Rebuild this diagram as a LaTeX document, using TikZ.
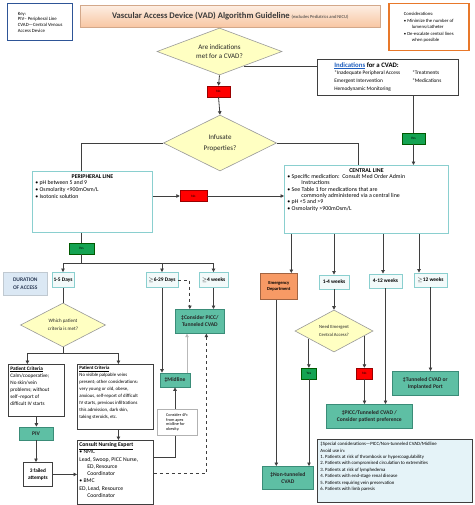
\documentclass[tikz,border=0pt]{standalone}
\usepackage{fontspec}
\setmainfont{Carlito}
\usepackage{xcolor}
\usepackage{tikz}
\usetikzlibrary{shapes.geometric, arrows.meta}
\definecolor{linegray}{HTML}{3F3F3F}
\definecolor{diamondfill}{HTML}{FFFFC2}
\definecolor{tealfill}{HTML}{5EBFA4}
\definecolor{tealline}{HTML}{3A8C78}
\definecolor{paleteal}{HTML}{F2FAFA}
\definecolor{tealborder}{HTML}{8ACFCF}
\definecolor{nored}{HTML}{FF0000}
\definecolor{yesgreen}{HTML}{14A352}
\definecolor{keyblue}{HTML}{2E5597}
\definecolor{considorange}{HTML}{E8782A}
\definecolor{edorange}{HTML}{F79A65}
\definecolor{durblue}{HTML}{DBE8F4}
\definecolor{durtext}{HTML}{2B3A55}
\definecolor{specialblue}{HTML}{E5F3F8}
\definecolor{titletop}{HTML}{FDEEE3}
\definecolor{titlebottom}{HTML}{F8C6A2}
\definecolor{titletext}{HTML}{3A3A3A}
\definecolor{linkblue}{HTML}{1F5FBF}

\begin{document}
\begin{tikzpicture}[x=1pt, y=-1pt,
    conn/.style={draw=linegray, line width=0.8pt},
    arr/.style={conn, -{Triangle[length=3.5pt, width=3.5pt]}},
    decision/.style={diamond, aspect=2, draw=gray!80, fill=diamondfill, line width=0.6pt,
      inner sep=0pt, align=center, text=black!85},
    outcome/.style={draw=tealline, fill=tealfill, line width=0.7pt, inner sep=1pt, align=center,
      font=\bfseries\fontsize{5.6}{6.8}\selectfont, text=black!85},
    nobox/.style={draw=red!60!black, fill=nored, line width=0.4pt, minimum width=23pt,
      minimum height=11pt, inner sep=0pt, font=\fontsize{3.5}{4}\selectfont},
    yesbox/.style={nobox, draw=green!35!black, fill=yesgreen},
    daybox/.style={draw=tealborder, fill=paleteal, line width=0.9pt, minimum height=15pt,
      inner sep=1.5pt, font=\bfseries\fontsize{5.4}{6}\selectfont},
    panel/.style={draw=linegray, fill=white, line width=0.7pt, inner sep=2pt, anchor=north west}]
  \path[fill=white] (0,0) rectangle (474,505);
  \useasboundingbox (0,0) rectangle (474,505);

  \node[panel, draw=keyblue, line width=1.4pt, inner sep=3pt, minimum width=65pt, minimum height=37pt,
        align=left, font=\fontsize{4.8}{5.8}\selectfont] (key) at (7,3)
    {Key:\\PIV– Peripheral Line\\CVAD—Central Venous\\Access Device};
  \node[panel, draw=titlebottom!85!black, line width=0.5pt, top color=titletop, bottom color=titlebottom,
        minimum width=300pt, minimum height=22pt] (title) at (80,5)
    {\color{titletext}\bfseries\fontsize{8.6}{10}\selectfont Vascular Access Device (VAD) Algorithm Guideline\
     {\mdseries\fontsize{4.6}{5}\selectfont (excludes Pediatrics and NICU)}};
  \node[panel, draw=considorange, line width=1.5pt, inner sep=3pt, minimum width=80pt, minimum height=47pt,
        align=left, font=\fontsize{4.7}{5.7}\selectfont] (consid) at (388,3)
    {Considerations:\\[1.5pt]
     \textbullet\ Minimize the number of\\\hspace*{8pt}lumens/catheter\\[1.5pt]
     \textbullet\ De-escalate central lines\\\hspace*{8pt}when possible};

  \node[decision, minimum width=125pt, minimum height=47pt, font=\fontsize{7}{9.5}\selectfont] (d1)
    at (219.5,51.5) {Are indications\\met for a CVAD?};
  \node[nobox] (no1) at (218.5,91.5) {No};
  \node[panel, inner sep=2.5pt, minimum width=141pt, minimum height=36pt, align=left] (ind) at (317,59)
    {{\bfseries\fontsize{6.8}{8}\selectfont{\color{linkblue}\underline{Indications}} for a CVAD:}\\[-0.5pt]
     {\fontsize{5.3}{7.6}\selectfont\begin{tabular}{@{}l@{\hspace{12pt}}l@{}}
       *Inadequate Peripheral Access & *Treatments\\
       *Emergent Intervention & *Medications\\
       *Hemodynamic Monitoring &
     \end{tabular}}};
  \node[yesbox] (yes1) at (413.5,138.5) {Yes};
  \node[decision, minimum width=113pt, minimum height=56pt, font=\fontsize{7}{10.5}\selectfont] (d2)
    at (220,143) {Infusate\\Properties?};

  \node[panel, draw=tealborder, line width=0.9pt, inner sep=3pt, font=\fontsize{5.8}{6.6}\selectfont] (perip)
    at (32,171)
    {\parbox[c][55pt][t]{114pt}{\centering\textbf{PERIPHERAL LINE}\par\raggedright
      \textbullet\ pH between 5 and 9\\
      \textbullet\ Osmolarity <900mOsm/L\\
      \textbullet\ Isotonic solution}};
  \node[nobox, minimum width=27pt] (no2) at (193.5,196) {No};
  \node[panel, draw=tealborder, line width=0.9pt, inner sep=3pt, font=\fontsize{5.9}{6.3}\selectfont] (central)
    at (284,165)
    {\parbox[c][62pt][t]{158pt}{\centering\textbf{CENTRAL LINE}\par\raggedright
      \textbullet\ Specific medication:\ \ Consult Med Order Admin\\
      \hspace*{14pt}Instructions\\
      \textbullet\ See Table 1 for medications that are\\
      \hspace*{14pt}commonly administered via a central line\\
      \textbullet\ pH <5 and >9\\
      \textbullet\ Osmolarity >900mOsm/L}};
  \node[yesbox, minimum width=25pt] (yes2) at (81.5,248.5) {Yes};

  \node[panel, draw=durblue!70!gray, fill=durblue, line width=0.6pt, minimum width=44pt, minimum height=23pt,
        align=left, font=\bfseries\fontsize{5.5}{7.5}\selectfont, text=durtext] (dur) at (3,272)
    {DURATION\\OF ACCESS};
  \node[daybox, minimum width=21pt] (d15) at (63,280) {1-5 Days};
  \node[daybox, minimum width=32pt] (d629) at (162,280) {$\geq$6-29 Days};
  \node[daybox, minimum width=29pt] (w4) at (213.5,280) {$\geq$4 weeks};

  \node[decision, minimum width=85pt, minimum height=44pt, font=\fontsize{5}{7.5}\selectfont] (d3)
    at (63,325) {Which patient\\criteria is met?};
  \node[panel, line width=0.8pt, font=\fontsize{5.2}{7}\selectfont] (pc1) at (8,364)
    {\parbox[c][48pt][t]{52pt}{\raggedright\underline{\textbf{Patient Criteria}}\\
      Calm/cooperative;\\No skin/vein\\problems; without\\self–report of\\difficult IV starts}};
  \node[panel, line width=0.8pt, font=\fontsize{4.8}{7}\selectfont] (pc2) at (77,364)
    {\parbox[c][61pt][t]{72pt}{\raggedright\underline{\textbf{Patient Criteria}}\\
      No visible palpable veins\\present; other considerations:\\very young or old, obese,\\
      anxious, self-report of difficult\\IV starts, previous infiltrations\\this admission, dark skin,\\
      taking steroids, etc.}};
  \node[outcome, minimum width=34pt, minimum height=13pt] (piv) at (36,433.5) {PIV};
  \node[panel, line width=0.8pt, minimum width=29pt, minimum height=24pt, align=center,
        font=\bfseries\fontsize{5.3}{6.5}\selectfont] (fail) at (23,462) {3 failed\\attempts};
  \node[panel, line width=0.8pt, font=\fontsize{5.7}{7.3}\selectfont] (consult) at (77,440)
    {\parbox[c][60pt][t]{72pt}{\raggedright\underline{\textbf{Consult Nursing Expert}}\\
      \textbullet\ NMC\\Lead, Swoop, PICC Nurse,\\\hspace*{8pt}ED, Resource\\\hspace*{8pt}Coordinator\\
      \textbullet\ BMC\\ED, Lead, Resource\\\hspace*{8pt}Coordinator}};
  \node[outcome, minimum width=30pt, minimum height=14pt] (midline) at (175,380) {‡Midline};
  \node[outcome, anchor=north west, minimum width=49pt, minimum height=24pt] (picc1) at (175,309)
    {‡Consider PICC/\\Tunneled CVAD};

  \node[panel, draw=edorange!65!black, fill=edorange, line width=0.6pt, minimum width=37pt, minimum height=26pt,
        align=center, font=\bfseries\fontsize{4.6}{6.5}\selectfont] (emerg) at (260,273)
    {Emergency\\Department};
  \node[daybox, minimum width=30pt, minimum height=14pt] (w14) at (334,282) {1-4 weeks};
  \node[daybox, minimum width=33pt, minimum height=14pt] (w412) at (385.5,281) {4-12 weeks};
  \node[daybox, minimum width=33pt, minimum height=14pt] (w12) at (430.5,280) {$\geq$12 weeks};
  \node[decision, minimum width=78pt, minimum height=42pt, font=\fontsize{4.7}{7.5}\selectfont] (d4)
    at (334,331) {Need Emergent\\Central Access?};
  \node[yesbox, minimum width=15pt] (yes3) at (309,373.5) {Yes};
  \node[nobox, minimum width=16pt] (no3) at (364.5,373.5) {No};
  \node[outcome, anchor=north west, minimum width=66pt, minimum height=24pt] (tunn) at (392,371)
    {‡Tunneled CVAD or\\Implanted Port};
  \node[outcome, anchor=north west, minimum width=86pt, minimum height=24pt] (picc2) at (326,404)
    {‡PICC/Tunneled CVAD /\\Consider patient preference};
  \node[outcome, anchor=north west, minimum width=51pt, minimum height=23pt] (nontun) at (262,466)
    {‡Non-tunneled\\CVAD};
  \node[panel, fill=specialblue, line width=0.9pt, inner sep=3pt, font=\fontsize{4.8}{6.4}\selectfont] (special)
    at (317,439)
    {\parbox[c][57pt][t]{149pt}{\raggedright
      ‡Special considerations—PICC/Non-tunneled CVAD/Midline\\
      Avoid use in:\\
      1.\ Patients at risk of thrombosis or hypercoagulability\\
      2.\ Patients with compromised circulation to extremities\\
      3.\ Patients at risk of lymphedema\\
      4.\ Patients with end-stage renal disease\\
      5.\ Patients requiring vein preservation\\
      6.\ Patients with limb paresis}};

  \draw[arr] (d1.south) -- (no1.north);
  \draw[arr] (no1.south) -- (d2.north);
  \draw[conn] (d1.-31) -- (d1.-31 -| ind.west);
  \draw[conn] (yes1.north |- ind.south) -- (yes1.north);
  \draw[arr] (yes1.south) -- (yes1.south |- central.north);
  \draw[conn] (d2.west) -| (yes2.north |- perip.north);
  \draw[conn] (d2.east) -| ([xshift=-8pt]central.north);
  \draw[arr] (no2.west -| perip.east) -- (no2.west);
  \draw[arr] (no2.east) -- (no2.east -| central.west);

  \coordinate (bus1) at (81.5,263);
  \draw[conn] (yes2.north |- perip.south) -- (yes2.north);
  \draw[conn] (yes2.south) -- (bus1);
  \draw[conn] (bus1 -| d15.north) -- (bus1 -| w4.north);
  \draw[arr] (bus1 -| d15.north) -- (d15.north);
  \draw[arr] (bus1 -| d629.north) -- (d629.north);
  \draw[arr] (bus1 -| w4.north) -- (w4.north);

  \coordinate (bus2) at (63,353);
  \draw[conn] (d15.south) -- (d3.north);
  \draw[conn] (d3.south) -- (bus2);
  \draw[arr] (bus2) -| ([xshift=-9pt]pc1.north);
  \draw[arr] (bus2) -| ([xshift=3pt]pc2.north);
  \draw[arr] (pc1.south) -- (pc1.south |- piv.north);
  \draw[arr] (piv.south) -- (piv.south |- fail.north);
  \draw[arr] (fail.east) -- (fail.east -| consult.west);
  \draw[arr] ([xshift=3pt]pc2.south) -- ([xshift=3pt]pc2.south |- consult.north);

  \draw[arr] (d629.south) -- (d629.south |- midline.north);
  \draw[arr, dashed] (d629.east) -| ([xshift=-10pt]picc1.north);
  \draw[arr] (w4.south) -- (w4.south |- picc1.north);
  \draw[arr, draw=gray!55] ([xshift=12pt]midline.north) -- ([xshift=12pt]midline.north |- picc1.south);
  \draw[arr] ([yshift=15pt]consult.east) -| (midline.south);
  \draw[arr, dashed] ([yshift=-1pt]consult.east) -| ([xshift=6.5pt]picc1.south);
  \node[panel, draw=gray!60, line width=0.6pt, minimum width=40pt, minimum height=26pt, align=left,
        font=\fontsize{4.2}{4.8}\selectfont] (consider4) at (157,409)
    {Consider 4Fr.\\from apex\\midline for\\obesity.};

  \draw[arr] ([xshift=12.5pt]emerg.north |- central.south) -- ([xshift=12.5pt]emerg.north);
  \draw[arr] (w14.north |- central.south) -- (w14.north);
  \draw[arr] ([xshift=-2.5pt]w412.north |- central.south) -- ([xshift=-2.5pt]w412.north);
  \draw[arr] ([xshift=-11.5pt]w12.north |- central.south) -- ([xshift=-11.5pt]w12.north);
  \draw[arr] ([xshift=-2.5pt]emerg.south) -- ([xshift=-2.5pt]emerg.south |- nontun.north);
  \draw[arr] (w14.south) -- (d4.north);
  \draw[arr] (d4.197) -- (d4.197 |- yes3.north);
  \draw[arr] (yes3.south) -- (yes3.south |- nontun.north);
  \draw[arr] (d4.-9) -- (d4.-9 |- no3.north);
  \draw[arr] (no3.south) -- (no3.south |- picc2.north);
  \draw[arr] (w412.south) -- (w412.south |- picc2.north);
  \draw[arr] (w12.south) -- (w12.south |- tunn.north);
\end{tikzpicture}
\end{document}
